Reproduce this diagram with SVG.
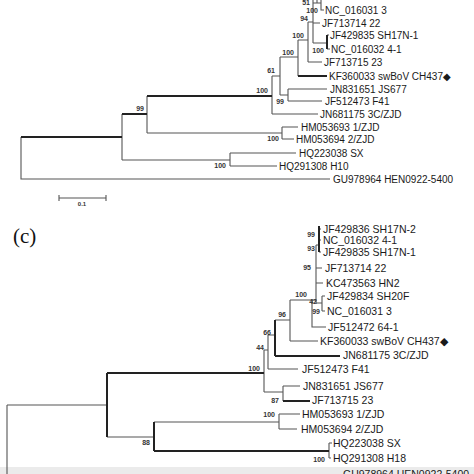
<svg xmlns="http://www.w3.org/2000/svg" width="474" height="474" viewBox="0 0 474 474">
<style>
.b{fill:none;stroke:#555;stroke-width:1.1}
.k{fill:none;stroke:#222;stroke-width:2}
.t{font-family:"Liberation Sans",Arial,sans-serif;font-size:10px;fill:#1a1a1a}
.u{font-family:"Liberation Sans",Arial,sans-serif;font-size:10.5px;fill:#1a1a1a}
.s{font-family:"Liberation Sans",Arial,sans-serif;font-size:7px;font-weight:bold;fill:#333;text-anchor:end}
</style>
<rect x="0" y="0" width="474" height="474" fill="#fff"/>
<rect x="0" y="467" width="474" height="7" fill="#ebebeb"/>
<g id="connectors">
<path class="b" d="M21 137V179H330M21 137H122M122 114V160M122 160H230M230 153V166M230 153H296M230 166H277M147 96V133M147 133H282M282 127V139M282 127H298M282 139H294M272 76V114M272 114H318M272 76H280M280 57V95M280 95H288M288 89V101M288 89H327M288 101H322M280 57H298M298 40V76M298 40H308M308 22V62M308 62H322M308 22H313M313 0V43M313 23H320M313 43H327M327 35H329M327 49H330M313 3H321M321 0V10H324M317 0V3"/>
<path class="k" d="M122 114H147M147 96H272M298 76H327M327 35V49M21 137H122"/>
<path class="b" d="M59 198H106M59 195V201M106 195V201"/>
<path class="b" d="M7 405V474M7 405H107M107 373V437M107 437H154M154 422H279M279 414V429M279 414H300M279 429H297M329 443V458M329 443H332M329 458H331M264 350V392M264 392H283M283 386V401M283 386H300M264 350H268M268 335V369M268 369H298M268 335H275M275 320H290M290 300V341M290 341H318M290 300H316M312 300V327H326M316 245V303M316 245H319M319 229H321M319 240H321M319 252H321M316 268H322M316 283H323M316 303H322M322 296V311M322 296H325M322 311H325"/>
<path class="k" d="M107 373H264M154 422V451M154 451H329M283 401H310M275 320V356M275 356H340M319 226V252M107 373V437"/>
</g>
<g id="bootstrap">
<text class="s" x="310" y="5">51</text>
<text class="s" x="318" y="13">100</text>
<text class="s" x="308" y="21">94</text>
<text class="s" x="324" y="53">100</text>
<text class="s" x="304" y="38">100</text>
<text class="s" x="294" y="55">100</text>
<text class="s" x="275" y="73">61</text>
<text class="s" x="268" y="93">100</text>
<text class="s" x="284" y="104">99</text>
<text class="s" x="144" y="111">99</text>
<text class="s" x="279" y="141">100</text>
<text class="s" x="226" y="168">100</text>
<text class="s" x="315" y="237">99</text>
<text class="s" x="315" y="251">93</text>
<text class="s" x="311" y="270">95</text>
<text class="s" x="307" y="297">100</text>
<text class="s" x="317" y="304">42</text>
<text class="s" x="320" y="314">99</text>
<text class="s" x="286" y="317">96</text>
<text class="s" x="271" y="335">66</text>
<text class="s" x="264" y="350">44</text>
<text class="s" x="260" y="371">100</text>
<text class="s" x="279" y="403">87</text>
<text class="s" x="275" y="417">100</text>
<text class="s" x="150" y="445">88</text>
<text class="s" x="325" y="462">100</text>
<text x="82" y="206" style="font-family:'Liberation Sans',Arial,sans-serif;font-size:6px;font-weight:bold;fill:#333;text-anchor:middle">0.1</text>
</g>
<g id="panel-c"><text x="13" y="243" style="font-family:'Liberation Serif','Times New Roman',serif;font-size:21px;fill:#111">(c)</text></g>
<g id="b-NC016031"><text class="t" x="325" y="13.5">NC_016031 3</text></g>
<g id="b-JF713714"><text class="t" x="322" y="26.5">JF713714 22</text></g>
<g id="b-JF429835"><text class="t" x="330" y="38.5">JF429835 SH17N-1</text></g>
<g id="b-NC016032"><text class="t" x="331" y="52.5">NC_016032 4-1</text></g>
<g id="b-JF713715"><text class="t" x="324" y="65.5">JF713715 23</text></g>
<g id="b-KF360033"><text class="t" x="329" y="79.5">KF360033 swBoV CH437◆</text></g>
<g id="b-JN831651"><text class="t" x="330" y="92.5">JN831651 JS677</text></g>
<g id="b-JF512473"><text class="t" x="325" y="104.5">JF512473 F41</text></g>
<g id="b-JN681175"><text class="t" x="320" y="117.5">JN681175 3C/ZJD</text></g>
<g id="b-HM053693"><text class="t" x="301" y="130.5">HM053693 1/ZJD</text></g>
<g id="b-HM053694"><text class="t" x="296" y="142.5">HM053694 2/ZJD</text></g>
<g id="b-HQ223038"><text class="t" x="299" y="156.5">HQ223038 SX</text></g>
<g id="b-HQ291308"><text class="t" x="279" y="169.5">HQ291308 H10</text></g>
<g id="b-GU978964"><text class="t" x="333" y="182.5">GU978964 HEN0922-5400</text></g>
<g id="c-JF429836"><text class="u" x="323" y="233">JF429836 SH17N-2</text></g>
<g id="c-NC016032"><text class="u" x="323" y="244">NC_016032 4-1</text></g>
<g id="c-JF429835"><text class="u" x="323" y="256">JF429835 SH17N-1</text></g>
<g id="c-JF713714"><text class="u" x="325" y="272">JF713714 22</text></g>
<g id="c-KC473563"><text class="u" x="326" y="287">KC473563 HN2</text></g>
<g id="c-JF429834"><text class="u" x="327" y="300">JF429834 SH20F</text></g>
<g id="c-NC016031"><text class="u" x="327" y="315">NC_016031 3</text></g>
<g id="c-JF512472"><text class="u" x="328" y="331">JF512472 64-1</text></g>
<g id="c-KF360033"><text class="u" x="320" y="345">KF360033 swBoV CH437◆</text></g>
<g id="c-JN681175"><text class="u" x="343" y="359">JN681175 3C/ZJD</text></g>
<g id="c-JF512473"><text class="u" x="302" y="373">JF512473 F41</text></g>
<g id="c-JN831651"><text class="u" x="303" y="390">JN831651 JS677</text></g>
<g id="c-JF713715"><text class="u" x="312" y="404">JF713715 23</text></g>
<g id="c-HM053693"><text class="u" x="302" y="418">HM053693 1/ZJD</text></g>
<g id="c-HM053694"><text class="u" x="301" y="433">HM053694 2/ZJD</text></g>
<g id="c-HQ223038"><text class="u" x="333" y="447">HQ223038 SX</text></g>
<g id="c-HQ291308"><text class="u" x="333" y="462">HQ291308 H18</text></g>
<g id="c-GU978964"><text class="u" x="343" y="478">GU978964 HEN0922-5400</text></g>
</svg>
